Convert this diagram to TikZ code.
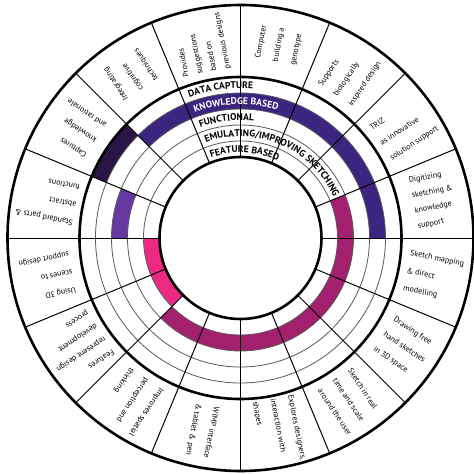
\documentclass[tikz,border=0pt]{standalone}
\usepackage{fontspec}
\setmainfont{PT Sans}
\usepackage{tikz}
\usetikzlibrary{decorations.text}
\definecolor{darkplum}{HTML}{2A1547}
\definecolor{knowpurple}{HTML}{3B2580}
\definecolor{midpurple}{HTML}{6838A2}
\definecolor{emulmagenta}{HTML}{A2206D}
\definecolor{featpink}{HTML}{EC2A83}
\newcommand{\bandfont}{\fontsize{9.6}{9.6}\selectfont\bfseries}
\tikzset{thickring/.style={line width=2.6pt}}
\tikzset{thinring/.style={line width=0.8pt,black!65}}
\tikzset{spoke/.style={line width=1pt}}
\tikzset{sectortext/.style={align=left,inner sep=0pt,font=\fontsize{8}{#1}\selectfont}}

\begin{document}
\begin{tikzpicture}
		\useasboundingbox (-240.5pt,-236pt) rectangle (233.5pt,238pt);
		% coloured arcs in the bands
		\foreach \ri/\ro/\sa/\ea/\col in {145/161/135/157.5/darkplum,129/145/0/135/knowpurple,113/129/157.5/180/midpurple,97/113/-135/22.5/emulmagenta,81/97/180/225/featpink}
		{
			\fill[\col] (\sa:\ri pt) arc[start angle=\sa, end angle=\ea, radius=\ri pt] -- (\ea:\ro pt) arc[start angle=\ea, end angle=\sa, radius=\ro pt] -- cycle;
		}
		% band rings and spokes
		\foreach \r in {97,113,129,145}
			\draw[thinring] (0,0) circle[radius=\r pt];
		\foreach \a in {0,22.5,...,337.5}
			\draw[spoke] (\a:81pt) -- (\a:233pt);
		\foreach \r in {81,161,233}
			\draw[thickring] (0,0) circle[radius=\r pt];
		% band labels
		\path[decorate,decoration={text along path,text={|\bandfont|DATA CAPTURE},text align=left}] (110:149.5pt) arc[start angle=110, end angle=-60, radius=149.5pt];
		\path[decorate,decoration={text along path,text color=white,text={|\bandfont|KNOWLEDGE BASED},text align=left}] (110:133.5pt) arc[start angle=110, end angle=-60, radius=133.5pt];
		\path[decorate,decoration={text along path,text={|\bandfont|FUNCTIONAL},text align=left}] (110:117.5pt) arc[start angle=110, end angle=-60, radius=117.5pt];
		\path[decorate,decoration={text along path,text={|\bandfont|EMULATING/IMPROVING SKETCHING},text align=left}] (110:101.5pt) arc[start angle=110, end angle=-60, radius=101.5pt];
		\path[decorate,decoration={text along path,text={|\bandfont|FEATURE BASED},text align=left}] (110:85.5pt) arc[start angle=110, end angle=-60, radius=85.5pt];
		% sector texts
		\foreach \ang/\sp/\txt [count=\i] in {
			101.25/14/{Provides\\suggestions\\based on\\previous designs},
			78.75/18/{Computer\\building a\\genotype},
			56.25/18/{Supports\\biologically\\inspired design},
			33.75/18/{TRIZ\\as innovative\\solution support},
			11.25/15.5/{Digitizing\\sketching \&\\knowledge\\support},
			-11.25/18/{Sketch mapping\\\& direct\\modelling},
			-33.75/18/{Drawing free\\hand sketches\\in 3D space},
			-56.25/18/{Sketch in real\\time and scale\\around the user},
			-78.75/18/{Explores designers,\\interaction with\\shapes},
			-101.25/18/{WIMP interface\\\& tablet \& pen},
			-123.75/18/{Improves spatial\\perception and\\thinking},
			-146.25/15.5/{Features\\represent design\\development\\process},
			-168.75/18/{Using 3D\\scenes to\\support design},
			168.75/18/{Standard parts \&\\abstract\\functions},
			146.25/18/{Captures\\knowledge\\and rationale},
			123.75/18/{Integrating\\cognitive\\techniques}}
		{
			\node[sectortext=\sp, rotate=\ang] (sec\i) at (\ang:197pt) {\txt};
		}
\end{tikzpicture}
\end{document}
